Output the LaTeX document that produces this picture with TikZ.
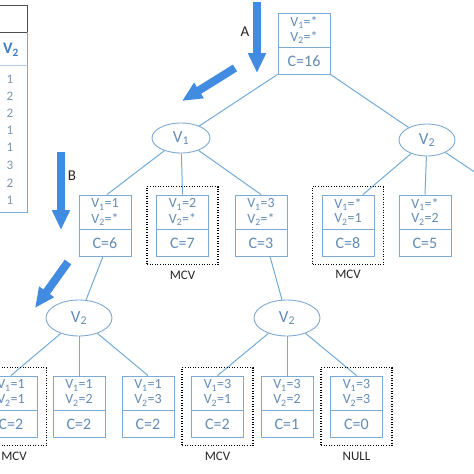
\documentclass[tikz,border=0pt]{standalone}
\usepackage{fontspec}
\setmainfont{Carlito}
\usetikzlibrary{shapes.geometric,arrows.meta,fit}
\definecolor{boxline}{RGB}{125,170,210}
\definecolor{linecol}{RGB}{115,170,215}
\definecolor{txt}{RGB}{100,140,182}
\definecolor{arrowblue}{RGB}{65,140,225}
\definecolor{hdrblue}{RGB}{60,125,195}
\definecolor{tabtxt}{RGB}{125,150,175}
\newcommand\cvbox[6]{%
  \node[cbox] (#1) at (#2,#3+30.5) {};
  \draw[boxline, line width=0.9pt] ([yshift=-35pt]#1.north west) -- ([yshift=-35pt]#1.north east);
  \node[vt] (#1a) at (#2,#3+9.5) {V\textsubscript{1}=#4};
  \node[vt] (#1b) at (#2,#3+24.5) {V\textsubscript{2}=#5};
  \node[ct] (#1c) at (#2,#3+48) {C=#6};
}
\begin{document}
\begin{tikzpicture}[x=1pt,y=-1pt,
  cbox/.style={draw=boxline, line width=0.9pt, minimum width=52pt, minimum height=61pt, inner sep=0pt, fill=white},
  vt/.style={text=txt, font=\fontsize{14}{14}\selectfont, inner sep=0pt},
  ct/.style={text=txt, font=\fontsize{16}{16}\selectfont, inner sep=0pt},
  ell/.style={draw=boxline, ellipse, line width=0.9pt, inner sep=0pt, text=txt, font=\fontsize{17}{17}\selectfont, fill=white},
  conn/.style={draw=linecol, line width=1pt},
  mcvframe/.style={draw=black, line width=1.3pt, dash pattern=on 1pt off 1.6pt, inner xsep=9pt, inner ysep=8pt},
  lab/.style={font=\fontsize{13}{13}\selectfont, text=black!85, inner sep=0pt},
  bigarrow/.style={draw=arrowblue, line width=8pt, -{Triangle[length=20pt,width=17pt]}},
  tv/.style={text=tabtxt, font=\fontsize{13}{13}\selectfont, inner sep=0pt}
]
\clip (0,0) rectangle (474,474);
\fill[white] (0,0) rectangle (474,474);

% partial table
\draw[black!70, line width=1pt] (0,5) -- (27,5) -- (27,32) -- (0,32);
\draw[boxline, line width=0.8pt] (27,32) -- (27,212) -- (0,212);
\draw[boxline!60, line width=0.8pt] (0,65) -- (27,65);
\node[text=hdrblue, font=\bfseries\fontsize{16}{16}\selectfont, inner sep=0pt] (th) at (11,50) {V\textsubscript{2}};
\foreach \v/\y [count=\i] in {1/79,2/96,2/113,1/130,1/147,3/165,2/183,1/200}
  \node[tv] (tv\i) at (10,\y) {\v};

% ellipses
\node[ell, minimum width=58pt, minimum height=30pt] (e1) at (181,138) {V\textsubscript{1}};
\node[ell, minimum width=56pt, minimum height=32pt] (e2) at (427,140) {V\textsubscript{2}};
\node[ell, minimum width=66pt, minimum height=36pt] (e3) at (79,318) {V\textsubscript{2}};
\node[ell, minimum width=66pt, minimum height=36pt] (e4) at (287,318) {V\textsubscript{2}};

% boxes
\cvbox{r}{304}{13}{*}{*}{16}
\cvbox{b1}{105}{195}{1}{*}{6}
\cvbox{b2}{182.5}{195}{2}{*}{7}
\cvbox{b3}{261}{195}{3}{*}{3}
\cvbox{b4}{348}{195}{*}{1}{8}
\cvbox{b5}{425}{195}{*}{2}{5}
\cvbox{l1}{11}{376}{1}{1}{2}
\cvbox{l2}{79}{376}{1}{2}{2}
\cvbox{l3}{148}{376}{1}{3}{2}
\cvbox{m1}{217.5}{376}{3}{1}{2}
\cvbox{m2}{287}{376}{3}{2}{1}
\cvbox{m3}{356.5}{376}{3}{3}{0}

% connectors
\coordinate (off) at (476,173);
\draw[conn] (r.south west) -- (e1);
\draw[conn] (r.south east) -- (e2);
\draw[conn] (e1) -- ([xshift=2pt]b1.north);
\draw[conn] (e1) -- (b2.north);
\draw[conn] (e1) -- (b3.north);
\draw[conn] (e2) -- ([xshift=15pt]b4.north);
\draw[conn] (e2) -- (b5.north);
\draw[conn] (e2) -- (off);
\draw[conn] ([xshift=-2pt]b1.south) -- (e3);
\draw[conn] ([xshift=9pt]b3.south) -- (e4);
\draw[conn] (e3) -- (l1.north);
\draw[conn] (e3) -- (l2.north);
\draw[conn] (e3) -- (l3.north);
\draw[conn] (e4) -- (m1.north);
\draw[conn] (e4) -- (m2.north);
\draw[conn] (e4) -- (m3.north);

% dotted frames and labels
\node[mcvframe, fit=(b2)] (f2) {};
\node[mcvframe, fit=(b4)] (f4) {};
\node[mcvframe, fit=(l1)] (fl1) {};
\node[mcvframe, fit=(m1)] (fm1) {};
\node[mcvframe, fit=(m3)] (fm3) {};
\node[lab, anchor=north] (t2) at ([yshift=-6pt]f2.south) {MCV};
\node[lab, anchor=north] (t4) at ([yshift=-5pt]f4.south) {MCV};
\node[lab, anchor=north] (tl1) at ([xshift=3pt,yshift=-6pt]fl1.south) {MCV};
\node[lab, anchor=north] (tm1) at ([yshift=-6pt]fm1.south) {MCV};
\node[lab, anchor=north] (tm3) at ([yshift=-6pt]fm3.south) {NULL};

% blue arrows
\coordinate (aS) at (257,2);
\coordinate (aE) at (257,73);
\draw[bigarrow] (aS) -- (aE);
\node[lab, font=\fontsize{15}{15}\selectfont] (la) at (245,32) {A};
\coordinate (dS) at (235,68);
\coordinate (dE) at (182,101);
\draw[bigarrow] (dS) -- (dE);
\coordinate (bS) at (61,152);
\coordinate (bE) at (61,230);
\draw[bigarrow] (bS) -- (bE);
\node[lab, font=\fontsize{15}{15}\selectfont] (lb) at (72,176) {B};
\coordinate (cS) at (68,262);
\coordinate (cE) at (35,308);
\draw[bigarrow] (cS) -- (cE);
\end{tikzpicture}
\end{document}
